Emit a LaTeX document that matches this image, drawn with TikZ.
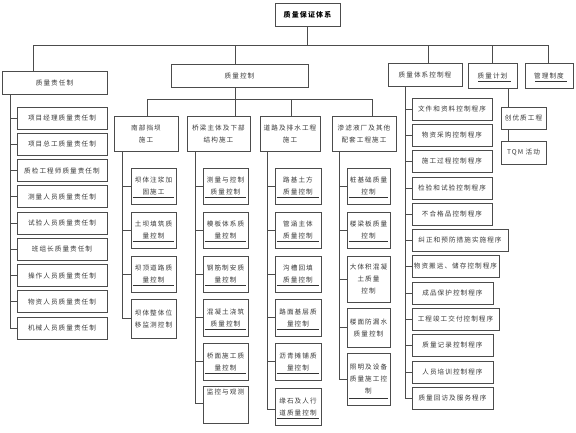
\documentclass[tikz,border=0pt]{standalone}
\usepackage{fontspec}
\setmainfont{Noto Sans CJK SC}[LetterSpace=16]
\begin{document}
\begin{tikzpicture}[x=1pt,y=-1pt,
  every node/.style={font=\fontsize{6.6pt}{12pt}\selectfont},
  box/.style={draw=black!70,line width=0.8pt,inner sep=0pt,outer sep=0pt,align=center,text=black!78},
  conn/.style={draw=black!70,line width=0.8pt},
  ulline/.style={draw=black!80,line width=0.8pt}]
\useasboundingbox (0,0) rectangle (576,432);
\newcommand\bx[7][]{\node[box,#1,minimum width={(#5-#3)*1pt},minimum height={(#6-#4)*1pt}] (#2) at ({(#3+#5)/2},{(#4+#6)/2}) {#7};}
\newcommand\ulb[1]{\draw[ulline] ([shift={(1.5pt,6.5pt)}]#1.south west) -- ([shift={(-2pt,6.5pt)}]#1.south east);}
% top
\bx[text=black,font=\fontsize{7pt}{12pt}\selectfont\bfseries]{top}{275}{3}{340}{26}{质量保证体系}
% level 2
\bx{resp}{2}{71}{107}{94}{质量责任制}
\bx{ctrl}{171}{64}{308}{87}{质量控制}
\bx{sys}{388}{63}{462}{86}{质量体系控制程}
\bx{plan}{468}{63}{517}{88}{质量计划}
\bx{mgmt}{525}{63}{573}{88}{管理制度}
\draw[ulline] (478,81) -- (511,81);
\draw[ulline] (535,81) -- (567,81);
% bus
\coordinate (d1) at (33,45);
\coordinate (d2) at (235,45);
\coordinate (d3) at (428,45);
\coordinate (d4) at (492,45);
\coordinate (d5) at (548,45);
\draw[conn] (top.south) -- (top.south |- d1);
\draw[conn] (d1) -- (d5);
\draw[conn] (d1) -- (d1 |- resp.north);
\draw[conn] (d2) -- (d2 |- ctrl.north);
\draw[conn] (d3) -- (d3 |- sys.north);
\draw[conn] (d4) -- (d4 |- plan.north);
\draw[conn] (d5) -- (d5 |- mgmt.north);
% responsibility column
\foreach \i/\t in {1/项目经理质量责任制,2/项目总工质量责任制,3/质检工程师质量责任制,4/测量人员质量责任制,5/试验人员质量责任制,6/班组长质量责任制,7/操作人员质量责任制,8/物资人员质量责任制,9/机械人员质量责任制}{
  \pgfmathsetmacro\ya{107+26.25*(\i-1)}
  \bx{r\i}{17}{\ya}{107}{\ya+22}{\t}
}
\coordinate (sr) at (10,0);
\draw[conn] (sr |- resp.south) |- (r9.west);
\foreach \i in {1,...,8}{\draw[conn] (r\i.west) -- (r\i.west -| sr);}
% control sub-bus
\coordinate (e1) at (147,99);
\coordinate (e2) at (235,99);
\coordinate (e3) at (291,99);
\coordinate (e4) at (372,99);
\draw[conn] (e2 |- ctrl.south) -- (e2);
\draw[conn] (e1) -- (e4);
\bx{c1}{114}{116}{178}{151}{南部挡坝\\施工}
\bx{c2}{187}{116}{250}{151}{桥梁主体及下部\\结构施工}
\bx{c3}{260}{116}{320}{151}{道路及排水工程\\施工}
\bx{c4}{332}{116}{396}{151}{渗滤液厂及其他\\配套工程施工}
\draw[conn] (e1) -- (e1 |- c1.north);
\draw[conn] (e2) -- (e2 |- c2.north);
\draw[conn] (e3) -- (e3 |- c3.north);
\draw[conn] (e4) -- (e4 |- c4.north);
% column 1
\bx{a1}{131}{168}{176}{204}{坝体注浆加\\固施工}\ulb{a1}
\bx{a2}{131}{212}{176}{248}{土坝填筑质\\量控制}\ulb{a2}
\bx{a3}{131}{256}{176}{292}{坝顶道路质\\量控制}\ulb{a3}
\bx{a4}{131}{299}{176}{338}{坝体整体位\\移监测控制}
\coordinate (s1) at (122,0);
\draw[conn] (s1 |- c1.south) |- (a4.west);
\foreach \i in {1,2,3}{\draw[conn] (a\i.west) -- (a\i.west -| s1);}
% column 2
\bx{b1}{203}{168}{248}{204}{测量与控制\\质量控制}\ulb{b1}
\bx{b2}{203}{212}{248}{248}{模板体系质\\量控制}\ulb{b2}
\bx{b3}{203}{256}{248}{292}{钢筋制安质\\量控制}\ulb{b3}
\bx{b4}{203}{299}{248}{336}{混凝土浇筑\\质量控制}\ulb{b4}
\bx{b5}{203}{343}{248}{380}{桥面施工质\\量控制}\ulb{b5}
\bx{b6}{203}{386}{248}{423}{监控与观测\\[14pt]~}
\coordinate (s2) at (195,0);
\draw[conn] (s2 |- c2.south) |- ([yshift=1pt]b6.west);
\foreach \i in {1,...,5}{\draw[conn] (b\i.west) -- (b\i.west -| s2);}
% column 3
\bx{g1}{275}{168}{321}{204}{路基土方\\质量控制}\ulb{g1}
\bx{g2}{275}{212}{321}{248}{管涵主体\\质量控制}\ulb{g2}
\bx{g3}{275}{256}{321}{292}{沟槽回填\\质量控制}\ulb{g3}
\bx{g4}{275}{299}{321}{336}{路面基层质\\量控制}\ulb{g4}
\bx{g5}{275}{343}{321}{380}{沥青摊铺质\\量控制}\ulb{g5}
\bx{g6}{275}{388}{321}{425}{缘石及人行\\道质量控制}\ulb{g6}
\coordinate (s3) at (267,0);
\draw[conn] (s3 |- c3.south) |- ([yshift=-3pt]g6.west);
\foreach \i in {1,...,5}{\draw[conn] (g\i.west) -- (g\i.west -| s3);}
% column 4
\bx{h1}{347}{168}{390}{204}{桩基础质量\\控制}\ulb{h1}
\bx{h2}{347}{212}{390}{248}{楼梁板质量\\控制}\ulb{h2}
\bx{h3}{347}{256}{390}{302}{大体积混凝\\土质量\\控制}
\bx{h4}{347}{308}{390}{347}{楼面防漏水\\质量控制}
\bx{h5}{347}{353}{390}{405}{照明及设备\\质量施工控\\制}\ulb{h5}
\coordinate (s4) at (339,0);
\draw[conn] (s4 |- c4.south) |- (h5.west);
\foreach \i in {1,...,4}{\draw[conn] (h\i.west) -- (h\i.west -| s4);}
% quality system procedures
\foreach \i/\ya/\xb/\t in {1/98/492/文件和资料控制程序,2/124/492/物资采购控制程序,3/150/492/施工过程控制程序,4/177/492/检验和试验控制程序,5/203/492/不合格品控制程序,6/229/508/纠正和预防措施实施程序,7/255/499/物资搬运、储存控制程序,8/282/493/成品保护控制程序,9/308/499/工程竣工交付控制程序,10/334/493/质量记录控制程序,11/361/493/人员培训控制程序,12/387/493/质量回访及服务程序}{
  \bx{p\i}{412}{\ya}{\xb}{\ya+22.5}{\t}
}
\coordinate (sp) at (405,0);
\draw[conn] (sp |- sys.south) |- (p12.west);
\foreach \i in {1,...,11}{\draw[conn] (p\i.west) -- (p\i.west -| sp);}
% quality plan
\bx{cy}{501}{107}{546}{129}{创优质工程}
\bx{tqm}{501}{141}{546}{164}{TQM 活动}
\coordinate (sq) at (508,0);
\draw[conn] (sq |- plan.south) -- (sq |- cy.north);
\draw[conn] (sq |- cy.south) -- (sq |- tqm.north);
\end{tikzpicture}
\end{document}
